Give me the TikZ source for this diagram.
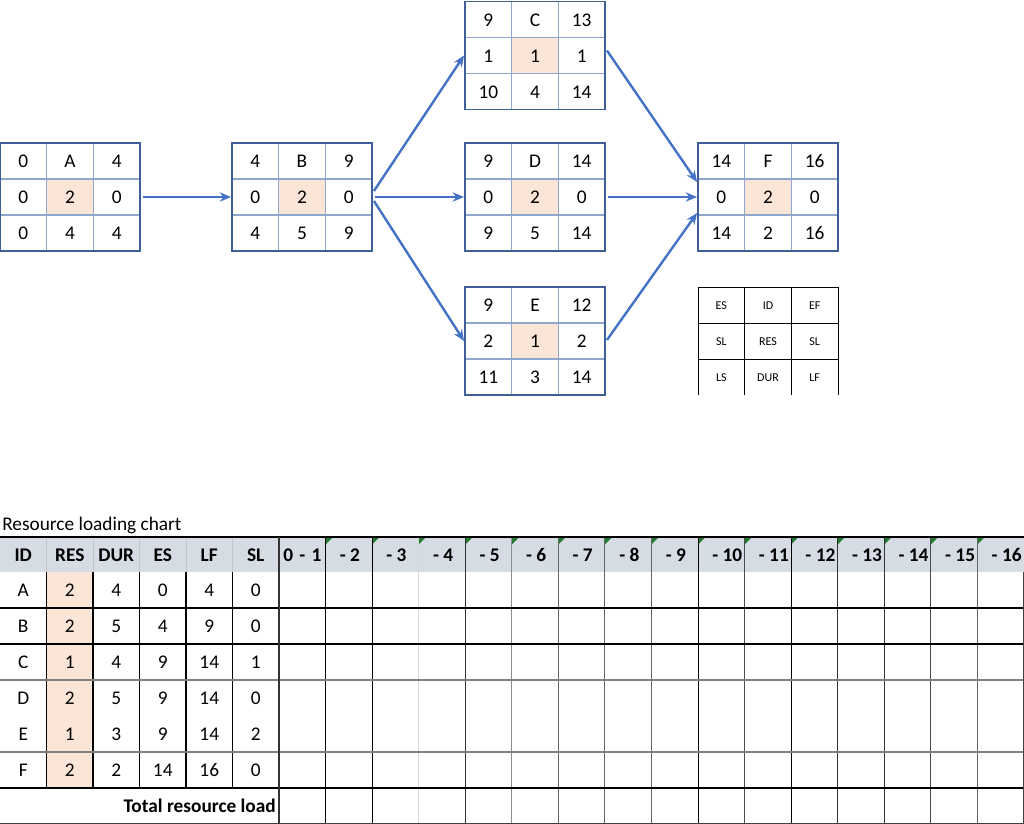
\documentclass[tikz,border=0pt]{standalone}
\usepackage{fontspec}
\setmainfont{Carlito}
\usetikzlibrary{arrows.meta,calc}
\definecolor{boxblue}{HTML}{3F5F99}
\definecolor{gridblue}{HTML}{8FA7CF}
\definecolor{flowblue}{HTML}{4472C4}
\definecolor{peach}{HTML}{FBE5D6}
\definecolor{headgray}{HTML}{D6DCE4}
\definecolor{notegreen}{HTML}{23792F}

\begin{document}
\begin{tikzpicture}[x=0.75pt, y=-0.75pt,
    txt/.style={font=\fontsize{14.5}{16}\selectfont, inner sep=0pt},
    hdr/.style={font=\fontsize{14.5}{16}\selectfont\bfseries, inner sep=0pt},
    keytxt/.style={font=\fontsize{9}{10}\selectfont, inner sep=0pt},
    actbox/.style={draw=boxblue, line width=1.4pt, minimum width=105pt, minimum height=81pt, inner sep=0pt},
    flow/.style={-{Stealth[length=8.5pt,width=7pt]}, flowblue, line width=1.8pt}]
    \useasboundingbox (0,0) rectangle (1024,824);

    % Activity boxes: ES ID EF / SL RES SL / LS DUR LF
    \foreach \n/\x/\y/\es/\id/\ef/\sa/\rs/\sb/\ls/\du/\lf in {
        A/0/143/0/A/4/0/2/0/0/4/4,
        B/232/143/4/B/9/0/2/0/4/5/9,
        C/465/1.5/9/C/13/1/1/1/10/4/14,
        D/465/143/9/D/14/0/2/0/9/5/14,
        E/465/287/9/E/12/2/1/2/11/3/14,
        F/698/143/14/F/16/0/2/0/14/2/16}{
        \fill[peach] (\x+46.7,\y+36) rectangle (\x+93.3,\y+72);
        \draw[gridblue, line width=0.8pt] (\x+46.7,\y) -- (\x+46.7,\y+108) (\x+93.3,\y) -- (\x+93.3,\y+108)
            (\x,\y+36) -- (\x+140,\y+36) (\x,\y+72) -- (\x+140,\y+72);
        \node[actbox] (\n) at (\x+70,\y+54) {};
        \node[txt] (\n-es) at (\x+23.3,\y+18.5) {\es};
        \node[txt] (\n-id) at (\x+70,\y+18.5) {\id};
        \node[txt] (\n-ef) at (\x+116.7,\y+18.5) {\ef};
        \node[txt] (\n-sa) at (\x+23.3,\y+54.5) {\sa};
        \node[txt] (\n-rs) at (\x+70,\y+54.5) {\rs};
        \node[txt] (\n-sb) at (\x+116.7,\y+54.5) {\sb};
        \node[txt] (\n-ls) at (\x+23.3,\y+90.5) {\ls};
        \node[txt] (\n-du) at (\x+70,\y+90.5) {\du};
        \node[txt] (\n-lf) at (\x+116.7,\y+90.5) {\lf};
    }

    % Arrows between activities
    \draw[flow] ($(A.east)+(2,0)$) -- (B.west);
    \draw[flow] ($(B.east)+(1,-6)$) -- (C.west);
    \draw[flow] ($(B.east)+(2,0)$) -- (D.west);
    \draw[flow] ($(B.east)+(1,4)$) -- (E.west);
    \draw[flow] ($(C.east)+(1,-5)$) -- ($(F.west)+(0,-15)$);
    \draw[flow] ($(D.east)+(2,0)$) -- (F.west);
    \draw[flow] ($(E.east)+(1,-1)$) -- ($(F.west)+(0,16)$);

    % Key
    \draw[line width=0.6pt] (698,395) -- (698,287) -- (838,287) -- (838,395)
        (744.7,287) -- (744.7,395) (791.3,287) -- (791.3,395)
        (698,323) -- (838,323) (698,359) -- (838,359);
    \foreach \t [count=\k from 0] in {ES,ID,EF,SL,RES,SL,LS,DUR,LF}{
        \pgfmathtruncatemacro\col{mod(\k,3)}
        \pgfmathtruncatemacro\row{\k/3}
        \node[keytxt] (key\k) at (721.3+46.7*\col,305.5+36*\row) {\t};
    }

    % Resource loading chart
    \node[txt, anchor=west] (title) at (2,525) {Resource loading chart};
    \fill[headgray] (0,537) rectangle (1024,572);
    \fill[peach] (46.5,572) rectangle (93,788);

    % header labels
    \foreach \h [count=\c from 0] in {ID,RES,DUR,ES,LF,SL}
        \node[hdr] (h\c) at (23.25+46.5*\c,555) {\h};
    \node[hdr, anchor=west] (p1) at (283,555) {0\hspace{1.5pt} - \hspace{1.5pt}1};
    \foreach \k in {2,...,16}{
        \begin{scope}
            \clip (279+46.56*\k-46.56,537) rectangle ++(46.56,35);
            \node[hdr, anchor=west] (p\k) at (279+46.56*\k-32.5,555) {- \k};
        \end{scope}
        \fill[notegreen] (279+46.56*\k-46.56,537.5) -- ++(7,0) -- ++(-7,7) -- cycle;
    }

    % rows
    \foreach \id/\rs/\du/\es/\lf/\sl [count=\r from 0] in {
        A/2/4/0/4/0, B/2/5/4/9/0, C/1/4/9/14/1,
        D/2/5/9/14/0, E/1/3/9/14/2, F/2/2/14/16/0}{
        \foreach \v [count=\c from 0] in {\id,\rs,\du,\es,\lf,\sl}
            \node[txt] (t\id\c) at (23.25+46.5*\c,590.5+36*\r) {\v};
    }
    \node[hdr, anchor=east] (total) at (276,806) {Total resource load};

    % grid lines
    \draw[gray!45, line width=0.6pt] (46.5,537) -- (46.5,572) (93,537) -- (93,572) (139.5,537) -- (139.5,572)
        (186,537) -- (186,572) (232.5,537) -- (232.5,572);
    \draw[line width=0.8pt] (46.5,572) -- (46.5,788) (93,572) -- (93,788) (139.5,572) -- (139.5,788)
        (186,572) -- (186,788) (232.5,572) -- (232.5,788);
    \foreach \k/\shade in {1/100,2/100,3/15,4/80,5/45,6/60,7/60,8/60,9/100,10/70,11/100,12/80,13/80,14/70,15/60}
        \draw[black!\shade, line width=0.8pt] (279+46.56*\k,537) -- (279+46.56*\k,824);
    \draw[line width=0.8pt] (0,537) -- (1024,537) (0,608) -- (1024,608) (0,644) -- (1024,644) (0,788) -- (1024,788);
    \draw[black!50, line width=0.8pt] (0,680) -- (1024,680) (0,752) -- (1024,752);
    \draw[black!75, line width=1.4pt] (0,823.5) -- (1024,823.5) (1023.5,572) -- (1023.5,824);
    \draw[black!80, line width=1.2pt] (279,537) -- (279,824);
\end{tikzpicture}
\end{document}
